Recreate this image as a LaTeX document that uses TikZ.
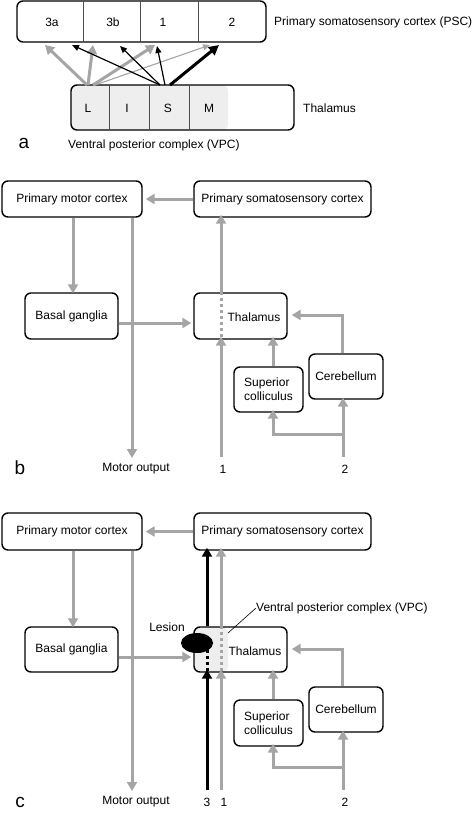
\documentclass[tikz,border=0pt]{standalone}
\usepackage{fontspec}
\setmainfont{Liberation Sans}
\usetikzlibrary{arrows.meta,calc}
\definecolor{ag}{RGB}{165,165,165}
\definecolor{vpcfill}{RGB}{238,238,238}
\tikzset{
  box/.style={draw, line width=1.4pt, rounded corners=6pt, fill=white, inner sep=0pt, align=center},
  garr/.style={draw=ag, line width=3pt, -{Triangle[length=9pt,width=10pt]}},
  gthin/.style={draw=ag, line width=1.1pt, -{Triangle[length=7pt,width=6pt]}},
  bthin/.style={draw=black, line width=1.2pt, -{Triangle[length=7pt,width=6pt]}},
  bthick/.style={draw=black, line width=3pt, -{Triangle[length=10pt,width=10pt]}},
  gline/.style={draw=ag, line width=3pt},
  bline/.style={draw=black, line width=3pt},
  divider/.style={draw=black!70, line width=0.8pt},
  txt/.style={inner sep=0pt},
  plabel/.style={inner sep=0pt, font=\fontsize{19}{20}\selectfont},
}
\begin{document}
\begin{tikzpicture}[x=1pt,y=-1pt,font=\fontsize{12}{14}\selectfont]
\useasboundingbox (0,0) rectangle (474,816);

% ---------------- panel a ----------------
\node[box, minimum width=249pt, minimum height=41pt] (pscA) at (141.5,21.5) {};
\draw[divider] (83,1) -- (83,42);
\draw[divider] (140,1) -- (140,42);
\draw[divider] (198,1) -- (198,42);
\node[txt] (c3a) at (52,22) {3a};
\node[txt] (c3b) at (113,22) {3b};
\node[txt] (c1) at (163,22) {1};
\node[txt] (c2) at (232,22) {2};
\node[txt, anchor=west] (pscAlabel) at (274,22) {Primary somatosensory cortex (PSC)};

\node[box, minimum width=223pt, minimum height=45pt,
  path picture={\fill[vpcfill] (path picture bounding box.north west) rectangle ([xshift=157pt]path picture bounding box.south west);}]
  (thA) at (182.5,107.5) {};
\draw[divider] (109,85) -- (109,130);
\draw[divider] (149,85) -- (149,130);
\draw[divider] (189,85) -- (189,130);
\node[txt] (cL) at (88,108) {L};
\node[txt] (cI) at (127,108) {I};
\node[txt] (cS) at (168,108) {S};
\node[txt] (cM) at (209,108) {M};
\node[txt, anchor=west] (thAlabel) at (303,108) {Thalamus};
\node[plabel] (la) at (24,143) {a};
\node[txt, anchor=west] (vpcA) at (68,145) {Ventral posterior complex (VPC)};

\coordinate (Ls1) at (87,85);
\coordinate (Ls2) at (88,85);
\coordinate (Ls3) at (93,85);
\coordinate (Ls4) at (95,85);
\coordinate (Ss1) at (160,85);
\coordinate (Ss2) at (165,85);
\coordinate (Ss3) at (170,85);
\draw[garr] (Ls1) -- (45,45);
\draw[garr] (Ls2) -- (93,45);
\draw[garr] (Ls3) -- (155,45);
\draw[gthin] (Ls4) -- (210,45);
\draw[bthin] (Ss1) -- (72,45);
\draw[bthin] (Ss1) -- (120,46);
\draw[bthin] (Ss2) -- (157,46);
\draw[bthick] (Ss3) -- (219,45);

% ---------------- panel b ----------------
\node[box, minimum width=140pt, minimum height=36pt] (pmcB) at (72,199) {Primary motor cortex};
\node[box, minimum width=177pt, minimum height=36pt] (pscB) at (282.5,199) {Primary somatosensory cortex};
\node[box, minimum width=93pt, minimum height=46pt] (bgB) at (71.5,316) {Basal ganglia};
\node[box, minimum width=93pt, minimum height=46pt] (thB) at (240.5,316) {};
\node[txt] (thBt) at (254,317) {Thalamus};
\node[box, minimum width=69pt, minimum height=45pt, align=left] (scB) at (268.5,389.5) {Superior\\colliculus};
\node[box, minimum width=74pt, minimum height=45pt] (cbB) at (346,376.5) {Cerebellum};
\node[txt] (moB) at (136,469) {Motor output};
\node[txt] (in1B) at (223,469) {1};
\node[txt] (in2B) at (345,469) {2};
\node[plabel] (lb) at (20,468) {b};
\coordinate (m1B) at (132,458);
\coordinate (s1B) at (221,457);
\coordinate (s2B) at (343,457);
\coordinate (brB) at (343,434);

\draw[garr] (pscB.west) -- ([xshift=3pt]pmcB.east);
\draw[garr] (pmcB.south -| 73,0) -- ([yshift=-1pt]bgB.north -| 73,0);
\draw[garr] (pmcB.south -| m1B) -- (m1B);
\draw[garr] (bgB.east |- 0,323) -- ([xshift=-2pt]thB.west |- 0,323);
\draw[gline, dash pattern=on 3pt off 3pt] (thB.north -| s1B) -- (thB.south -| s1B);
\draw[garr] (thB.north -| s1B) -- ([yshift=3pt]pscB.south -| s1B);
\draw[garr] (s1B) -- ([yshift=3pt]thB.south -| s1B);
\draw[garr] (scB.north -| 273,0) -- ([yshift=3pt]thB.south -| 273,0);
\draw[garr] (cbB.north -| 342,0) |- ([xshift=4pt]thB.east |- 0,315);
\draw[garr] (s2B) -- ([yshift=2pt]cbB.south -| s2B);
\draw[garr] (brB) -| ([yshift=3pt]scB.south -| 273,0);

% ---------------- panel c ----------------
\node[box, minimum width=140pt, minimum height=37pt] (pmcC) at (72,531.5) {Primary motor cortex};
\node[box, minimum width=177pt, minimum height=37pt] (pscC) at (282.5,531.5) {Primary somatosensory cortex};
\node[box, minimum width=93pt, minimum height=45pt] (bgC) at (71.5,649.5) {Basal ganglia};
\node[box, minimum width=93pt, minimum height=45pt,
  path picture={\fill[vpcfill] (path picture bounding box.north west) rectangle ([xshift=34pt]path picture bounding box.south west);}]
  (thC) at (240.5,649.5) {};
\node[txt] (thCt) at (255,651) {Thalamus};
\node[box, minimum width=69pt, minimum height=46pt, align=left] (scC) at (268.5,723) {Superior\\colliculus};
\node[box, minimum width=74pt, minimum height=45pt] (cbC) at (346,709.5) {Cerebellum};
\node[txt] (moC) at (136,802) {Motor output};
\node[txt] (in3C) at (207,802) {3};
\node[txt] (in1C) at (224,802) {1};
\node[txt] (in2C) at (345,802) {2};
\node[plabel] (lc) at (20,802) {c};
\node[txt] (lesT) at (167,627) {Lesion};
\node[txt, anchor=west] (vpcC) at (256,608) {Ventral posterior complex (VPC)};
\coordinate (m1C) at (132,791);
\coordinate (s1C) at (221,790);
\coordinate (s3C) at (207,790);
\coordinate (s2C) at (343,790);
\coordinate (brC) at (343,767);
\coordinate (vpcpt) at (228,633);

\draw[garr] (pscC.west) -- ([xshift=3pt]pmcC.east);
\draw[garr] (pmcC.south -| 73,0) -- ([yshift=-1pt]bgC.north -| 73,0);
\draw[garr] (pmcC.south -| m1C) -- (m1C);
\draw[garr] (bgC.east |- 0,657) -- ([xshift=-2pt]thC.west |- 0,657);
% gray pathway 1
\draw[gline, dash pattern=on 3pt off 3pt] (thC.north -| s1C) -- (thC.south -| s1C);
\draw[garr] (thC.north -| s1C) -- ([yshift=3pt]pscC.south -| s1C);
\draw[garr] (s1C) -- ([yshift=3pt]thC.south -| s1C);
% black pathway 3
\draw[bline, dash pattern=on 3pt off 3pt] (207,650) -- (thC.south -| s3C);
\draw[bthick, -{Triangle[length=9pt,width=10pt]}] (thC.north -| s3C) -- ([yshift=3pt]pscC.south -| s3C);
\draw[bthick, -{Triangle[length=9pt,width=10pt]}] (s3C) -- ([yshift=3pt]thC.south -| s3C);
\fill[black] (197,643) ellipse [x radius=16pt, y radius=10pt];
\draw[line width=0.6pt] (vpcpt) -- (vpcC.west);
\draw[garr] (scC.north -| 273,0) -- ([yshift=3pt]thC.south -| 273,0);
\draw[garr] (cbC.north -| 342,0) |- ([xshift=4pt]thC.east |- 0,649);
\draw[garr] (s2C) -- ([yshift=2pt]cbC.south -| s2C);
\draw[garr] (brC) -| ([yshift=3pt]scC.south -| 273,0);
\end{tikzpicture}
\end{document}
